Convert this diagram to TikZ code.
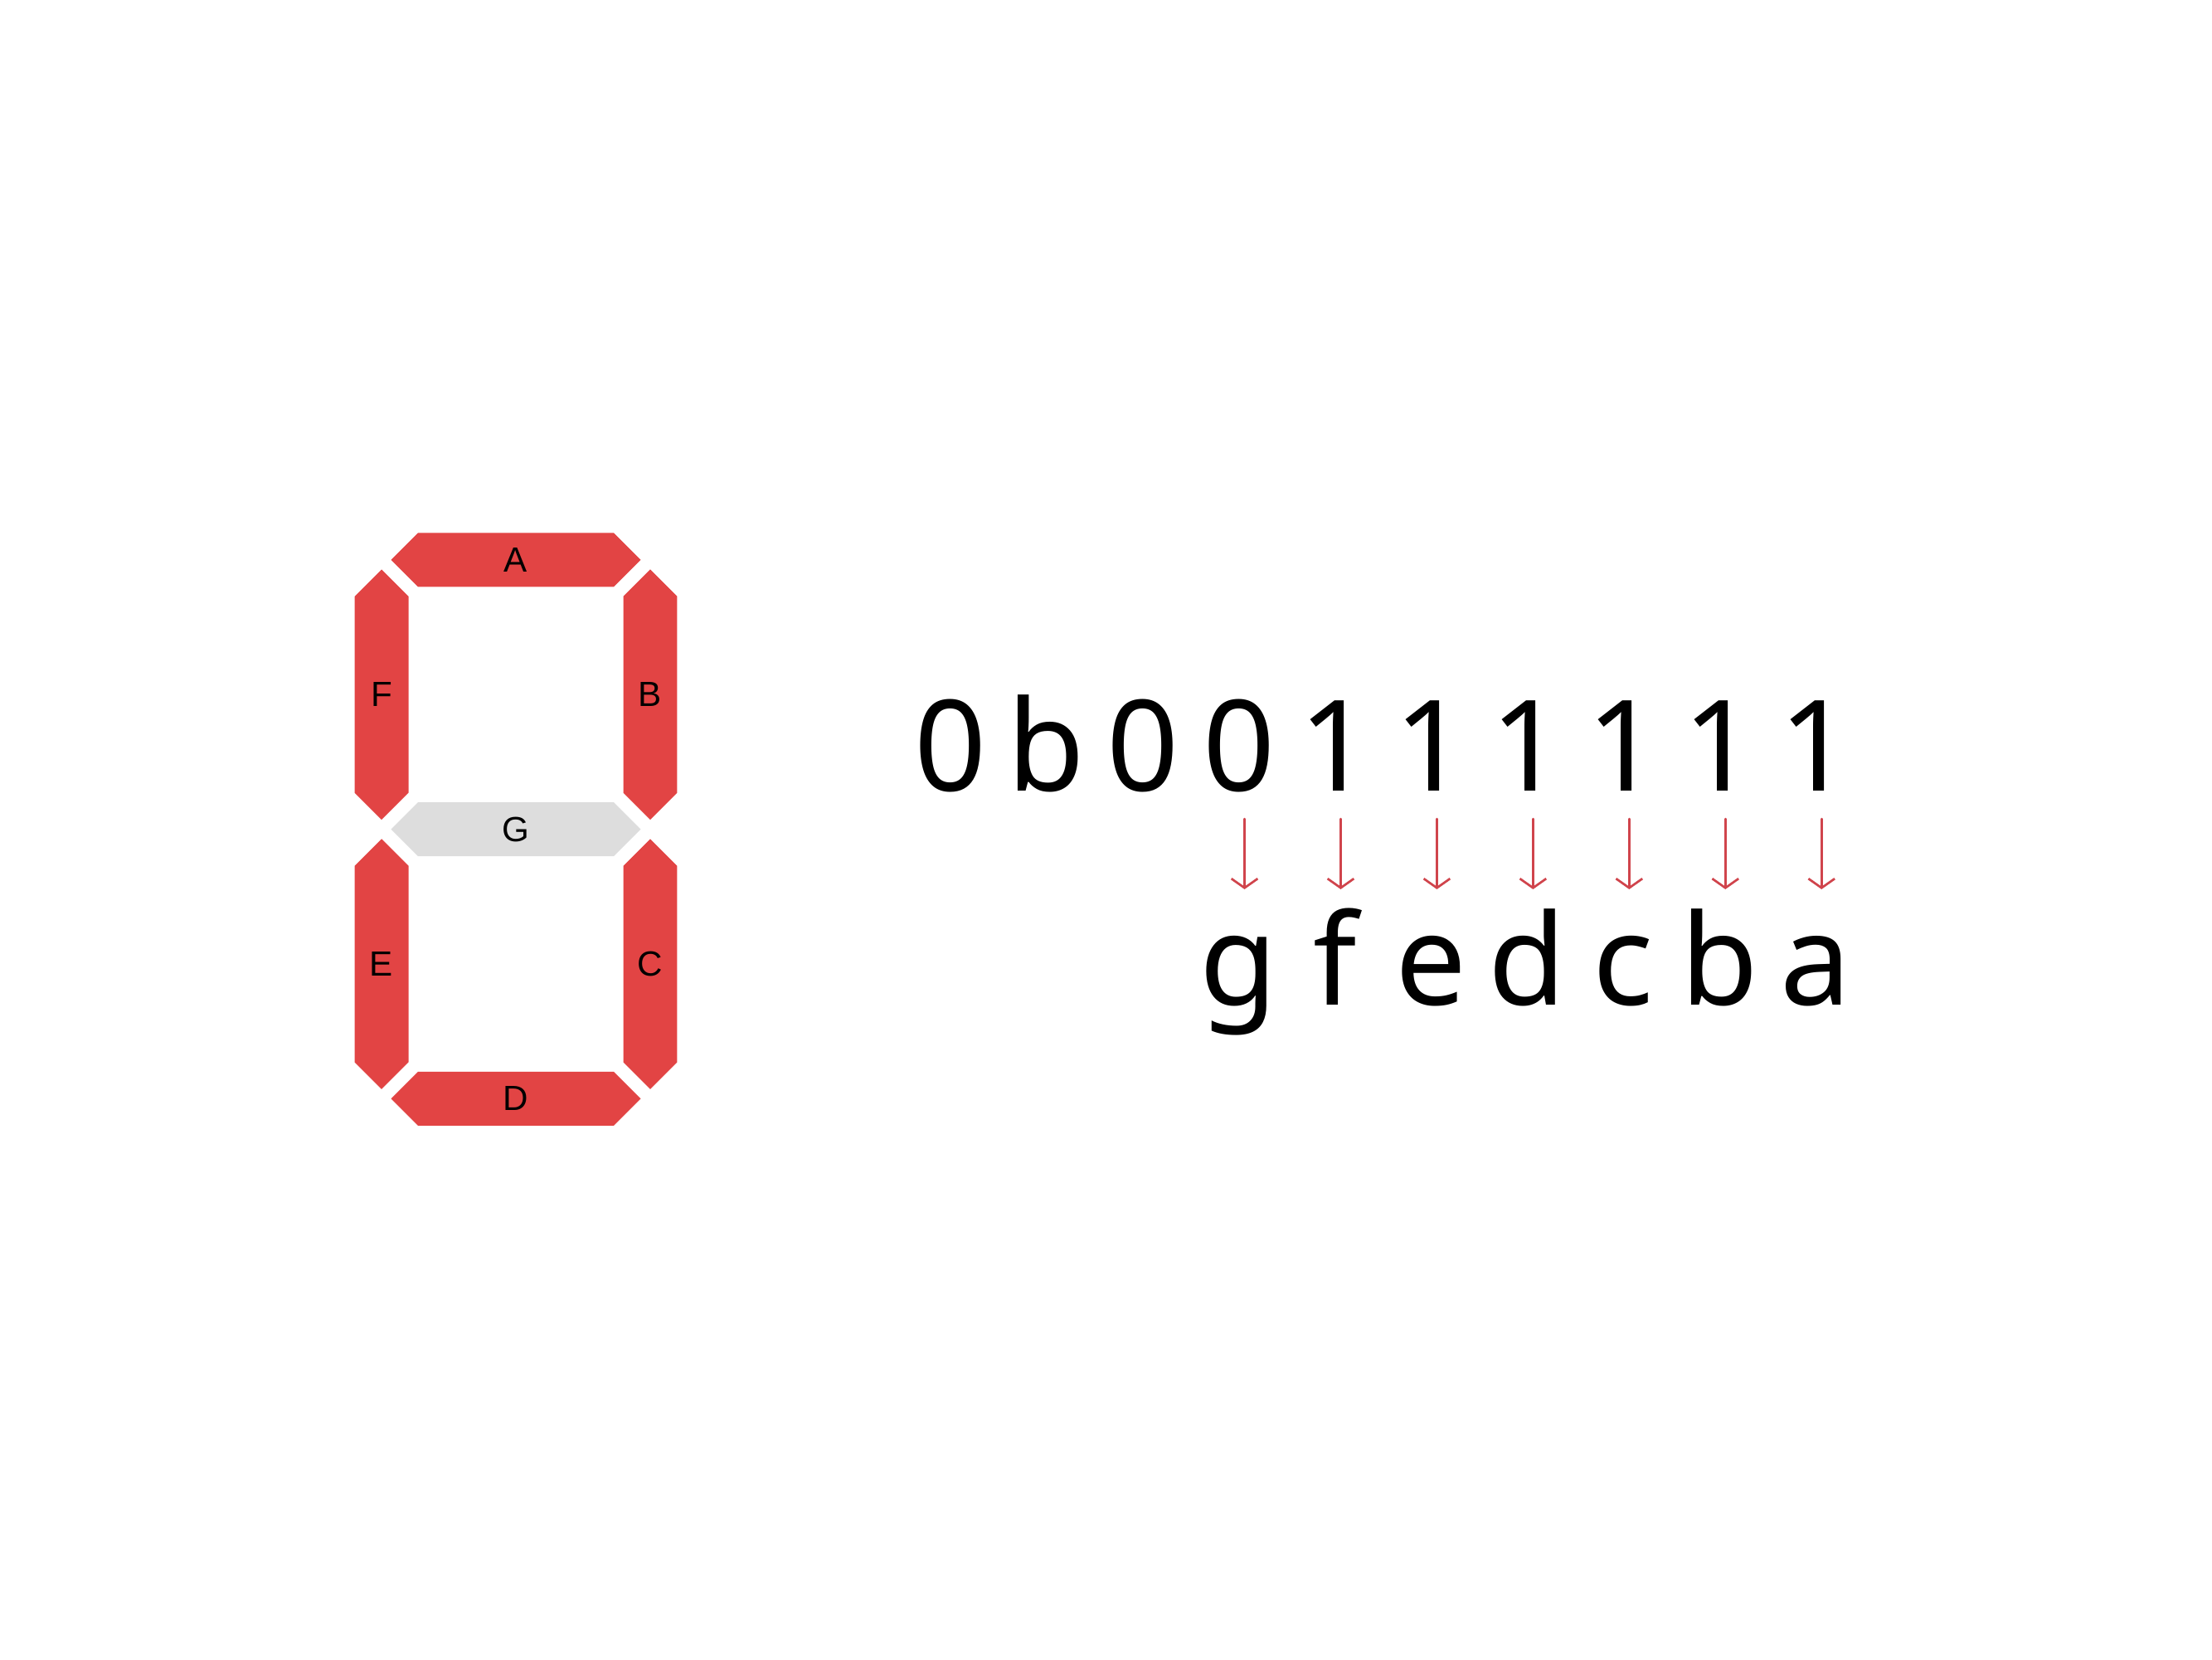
\documentclass[tikz,border=0pt]{standalone}
\usepackage{fontspec}
\setmainfont{Noto Sans}
\newfontfamily\segfont{Liberation Sans}
\usetikzlibrary{arrows.meta,positioning}

\begin{document}
\begin{tikzpicture}
  [x=0.1mm,y=-0.1mm,line cap=round,
  % Styles
  segment/.style={fill=segcolor},
  segment off/.style={fill=offcolor},
  seg label/.style={font=\segfont\fontsize{7}{8}\selectfont,inner sep=0pt},
  bit/.style={font=\fontsize{25.3}{30}\selectfont,inner sep=0pt,anchor=base,
    text height=6.4mm,text depth=0pt},
  letter/.style={font=\fontsize{25.3}{30}\selectfont,inner sep=0pt,anchor=base,
    text height=6.7mm,text depth=0pt},
  maps to/.style={draw=arrowcolor,line width=0.45pt,
    -{Straight Barb[length=0.65mm,width=1.85mm,line width=0.45pt]},
    shorten <=1.87mm,shorten >=1.39mm}]
  % Local definitions
  \def\pitch{67.65}
  % Colors
  \definecolor{segcolor}{RGB}{226,68,68}
  \definecolor{offcolor}{RGB}{221,221,221}
  \definecolor{arrowcolor}{RGB}{208,68,76}
  % The graphic
  \useasboundingbox (0,0) rectangle (1556,1167.4);
  % horizontal segments
  \foreach \name/\cy/\state in {A/393.7/segment, G/583.2/segment off, D/772.7/segment}
  {
    \fill[\state] (275.1,\cy) -- ++(18.95,-18.95) -- ++(137.7,0) -- ++(18.95,18.95)
      -- ++(-18.95,18.95) -- ++(-137.7,0) -- cycle;
    \node[seg label] (seg\name) at (362.9,\cy) {\name};
  }
  % vertical segments
  \foreach \name/\cx/\cy in {F/268.4/488.5, B/457.4/488.5, E/268.4/678, C/457.4/678}
  {
    \fill[segment] (\cx,\cy-88) -- ++(18.95,18.95) -- ++(0,138.1) -- ++(-18.95,18.95)
      -- ++(-18.95,-18.95) -- ++(0,-138.1) -- cycle;
    \node[seg label] (seg\name) at (\cx,\cy) {\name};
  }
  % binary value
  \foreach \ch [count=\k from 0] in {0,b,0,0,1,1,1,1,1,1}
    \node[bit] (bit\k) at (668.5+\pitch*\k,556.5) {\ch};
  % segment names
  \foreach \ch [count=\k from 3] in {g,f,e,d,c,b,a}
  {
    \node[letter] (let\k) at (668.5+\pitch*\k,707) {\ch};
    \draw[maps to] ([xshift=0.4mm]bit\k.south) -- ([xshift=0.4mm]let\k.north);
  }
\end{tikzpicture}
\end{document}
